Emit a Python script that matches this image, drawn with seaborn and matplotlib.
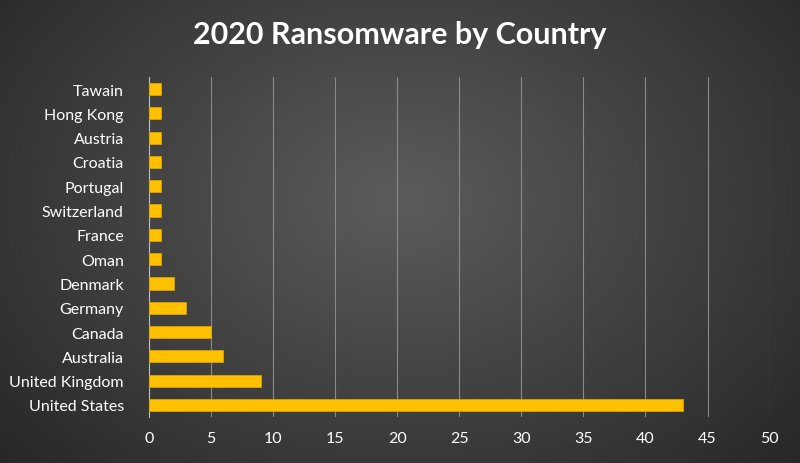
import numpy as np
import pandas as pd
import matplotlib
matplotlib.use("Agg")
import matplotlib.pyplot as plt
import seaborn as sns

countries = ["Tawain", "Hong Kong", "Austria", "Croatia", "Portugal", "Switzerland",
             "France", "Oman", "Denmark", "Germany", "Canada", "Australia",
             "United Kingdom", "United States"]
values = [1, 1, 1, 1, 1, 1, 1, 1, 2, 3, 5, 6, 9, 43]
xticks = [0, 5, 10, 15, 20, 25, 30, 35, 40, 45, 50]

df = pd.DataFrame({"country": countries, "value": values})

sns.set_style("white")
plt.rcParams["font.family"] = ["Lato", "DejaVu Sans"]

fig = plt.figure(figsize=(8, 4.64), dpi=100)

bg = fig.add_axes([0, 0, 1, 1])
yy, xx = np.mgrid[0:464, 0:800]
r = np.sqrt(((xx - 400) / 520) ** 2 + ((yy - 200) / 380) ** 2)
g = np.clip(0.36 - 0.20 * r, 0.15, 0.4)
bg.imshow(np.dstack([g, g, g]), aspect="auto", extent=[0, 1, 0, 1])
bg.axis("off")

ax = fig.add_axes([0.186, 0.099, 0.776, 0.733])
ax.set_facecolor("none")
sns.barplot(data=df, y="country", x="value", orient="h", color="#FFC000",
            saturation=1, width=0.5, edgecolor="#D9A400", linewidth=0.6,
            ax=ax, zorder=3)
ax.set_xlim(0, 50)
ax.set_xticks(xticks)
ax.set_xticklabels([str(t) for t in xticks])
ax.grid(axis="x", color="#8a8a8a", linewidth=0.8, zorder=0)
ax.set_axisbelow(True)
for s in ["top", "right", "bottom"]:
    ax.spines[s].set_visible(False)
ax.spines["left"].set_color("#bfbfbf")
ax.set_xlabel("")
ax.set_ylabel("")
ax.tick_params(axis="both", colors="white", labelsize=11.5, length=0)
ax.tick_params(axis="y", pad=18)
ax.tick_params(axis="x", pad=10)
fig.text(0.5, 0.925, "2020 Ransomware by Country", ha="center", va="center",
         color="white", fontsize=22, fontweight="bold")
fig.savefig("out.png", dpi=100)
